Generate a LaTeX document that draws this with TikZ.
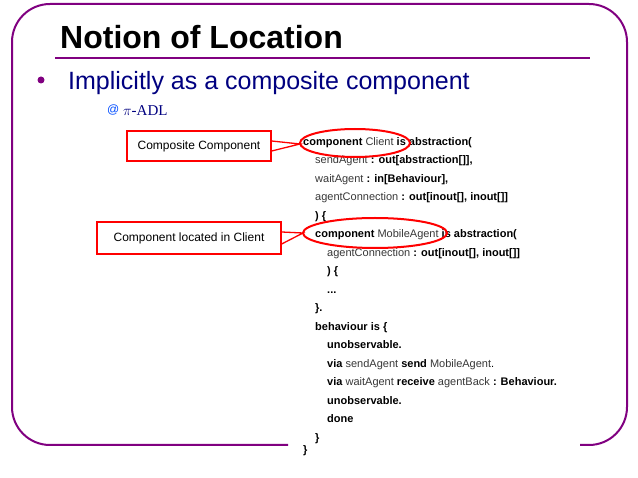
\documentclass[tikz,border=0pt]{standalone}
\usepackage{fontspec}
\setmainfont{Liberation Sans}
\newfontfamily\serifrm{Liberation Serif}
\definecolor{framepurple}{RGB}{128,0,128}
\definecolor{navy}{RGB}{0,0,128}
\definecolor{idgray}{RGB}{55,55,55}
\begin{document}
\begin{tikzpicture}[x=1pt,y=-1pt,
  code/.style={anchor=base west,inner sep=0pt,font=\fontsize{11}{13}\selectfont},
  callout/.style={draw=red,line width=1.3pt,fill=white,inner sep=0pt,font=\fontsize{12}{14}\selectfont},
  ring/.style={draw=red,line width=2pt},
  pointer/.style={draw=red,line width=1.3pt}]
\useasboundingbox (0,0) rectangle (638,478);
% frame
\draw[framepurple,line width=2pt,rounded corners=38pt]
  (288,445) -- (12,445) -- (12,4) -- (627,4) -- (627,445) -- (580,445);
\draw[framepurple,line width=2pt] (55,58) -- (590,58);
% title
\node[anchor=base west,inner sep=0pt,font=\fontsize{32}{36}\selectfont\bfseries] (title) at (60,49) {Notion of Location};
\fill[framepurple] (41,80) circle (3.5pt);
\node[anchor=base west,inner sep=0pt,text=navy,font=\fontsize{25}{29}\selectfont] (bullet) at (68,90) {Implicitly as a composite component};
\node[anchor=base west,inner sep=0pt,text=blue!70!cyan,font=\fontsize{12}{13}\selectfont] (icon) at (107,114) {@};
\node[anchor=base west,inner sep=0pt,text=navy,font=\fontsize{15}{17}\selectfont\serifrm] (adl) at (123,116) {$\pi$-ADL};
% code
\newcommand{\kw}[1]{\textbf{#1}}
\newcommand{\idn}[1]{\textcolor{idgray}{#1}}
\node[code] (c1) at (303,146) {\kw{component} \idn{Client} \kw{is abstraction(}};
\node[code] (c2) at (315,164) {\idn{sendAgent} \kw{: out[abstraction[]],}};
\node[code] (c3) at (315,183) {\idn{waitAgent} \kw{: in[Behaviour],}};
\node[code] (c4) at (315,201) {\idn{agentConnection} \kw{: out[inout[], inout[]]}};
\node[code] (c5) at (315,220) {\kw{) \{}};
\node[code] (c6) at (315,238) {\kw{component} \idn{MobileAgent} \kw{is abstraction(}};
\node[code] (c7) at (327,257) {\idn{agentConnection} \kw{: out[inout[], inout[]]}};
\node[code] (c8) at (327,275) {\kw{) \{}};
\node[code] (c9) at (327,294) {\kw{...}};
\node[code] (c10) at (315,312) {\kw{\}.}};
\node[code] (c11) at (315,331) {\kw{behaviour is \{}};
\node[code] (c12) at (327,349) {\kw{unobservable.}};
\node[code] (c13) at (327,368) {\kw{via} \idn{sendAgent} \kw{send} \idn{MobileAgent}.};
\node[code] (c14) at (327,386) {\kw{via} \idn{waitAgent} \kw{receive} \idn{agentBack} \kw{: Behaviour.}};
\node[code] (c15) at (327,405) {\kw{unobservable.}};
\node[code] (c16) at (327,423) {\kw{done}};
\node[code] (c17) at (315,442) {\kw{\}}};
\node[code] (c18) at (303,454) {\kw{\}}};
% rings
\draw[ring] (355,143) ellipse (55pt and 14pt);
\draw[ring] (375,233) ellipse (72pt and 15pt);
\coordinate (p1) at (300,144);
\coordinate (p2) at (303,233);
% callouts
\node[callout,minimum width=144pt,minimum height=30pt] (b1) at (199,146) {Composite Component};
\node[callout,minimum width=184pt,minimum height=32pt] (b2) at (189,238) {Component located in Client};
\draw[pointer] ([yshift=5pt]b1.east) -- (p1) -- ([yshift=-5pt]b1.east);
\draw[pointer] ([yshift=6pt]b2.east) -- (p2) -- ([yshift=-6pt]b2.east);
\end{tikzpicture}
\end{document}
